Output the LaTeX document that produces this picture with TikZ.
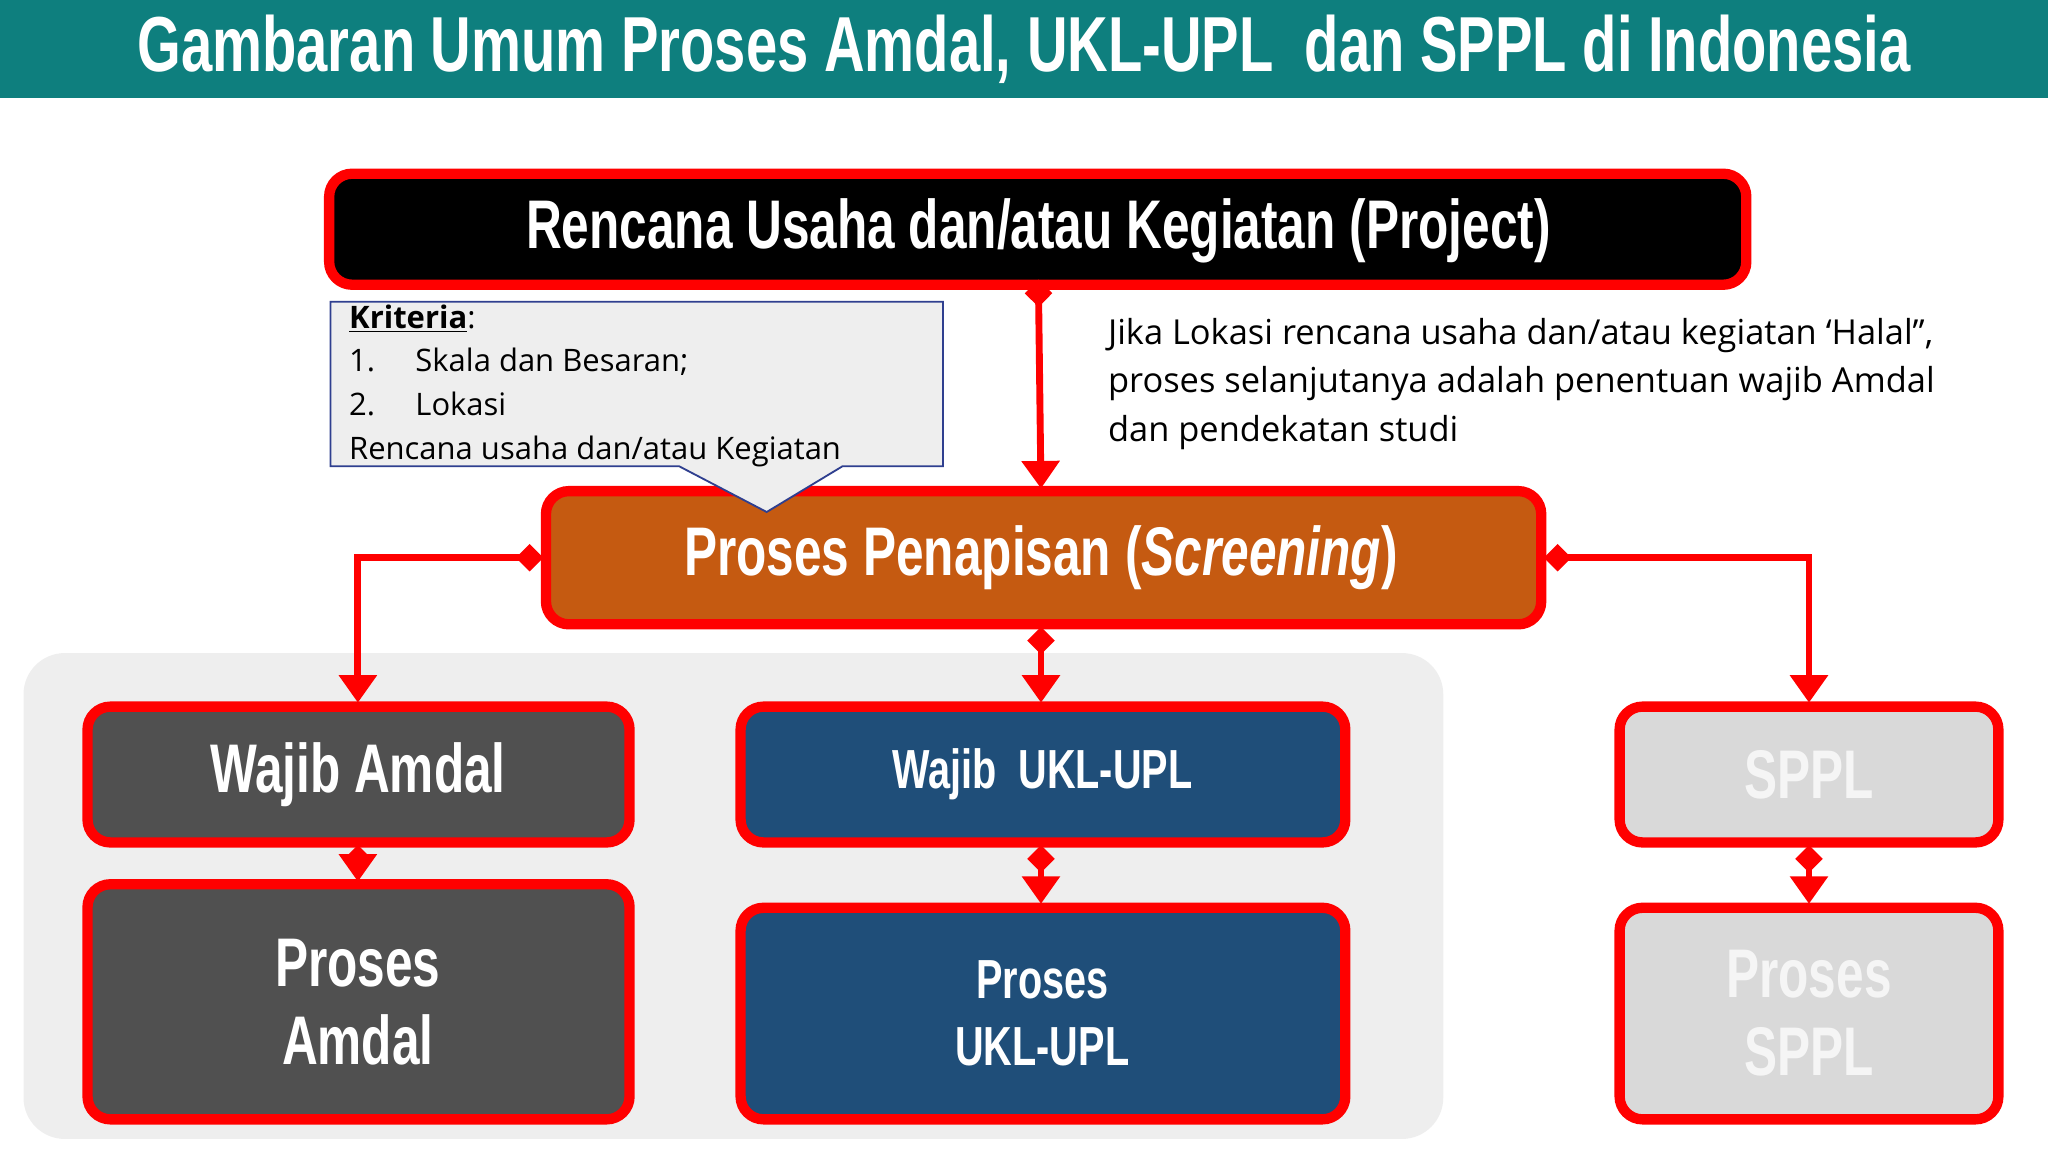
\documentclass[tikz,border=0pt]{standalone}
\usepackage{fontspec}
\setmainfont{Open Sans}
\newfontfamily\cond[FakeStretch=0.72]{Liberation Sans}
\usetikzlibrary{arrows.meta,shapes.callouts}
\definecolor{teal1}{HTML}{0E7F7E}
\definecolor{bgg}{HTML}{EEEEEE}
\definecolor{redb}{HTML}{FF0000}
\definecolor{orng}{HTML}{C55A11}
\definecolor{dgray}{HTML}{505050}
\definecolor{navy}{HTML}{1F4E79}
\definecolor{lgray}{HTML}{D9D9D9}
\definecolor{kbord}{HTML}{2F3F8F}
\tikzset{
 rbox/.style={draw=redb,line width=4.5pt,rounded corners=10pt},
 conn/.style={draw=redb,line width=3pt,{Diamond[length=12pt,width=12pt]}-{Triangle[length=12pt,width=16pt]}},
 connd/.style={draw=redb,line width=3pt,{Diamond[length=12pt,width=12pt]}-{Diamond[length=12pt,width=12pt]}},
 big/.style={text=white,font=\cond\bfseries\fontsize{30}{34}\selectfont},
}
\begin{document}
\begin{tikzpicture}[x=0.02cm,y=-0.02cm]
\useasboundingbox (0,0) rectangle (1568,882);
\fill[white] (0,0) rectangle (1568,882);
\fill[teal1] (0,0) rectangle (1568,75);
\node[text=white,font=\cond\bfseries\fontsize{34}{38}\selectfont] (title) at (784,38) {Gambaran Umum Proses Amdal, UKL-UPL\ \ dan SPPL di Indonesia};
\fill[bgg,rounded corners=18pt] (18,500) rectangle (1105,872);
% top
\draw[rbox,fill=black] (252,133) rectangle (1337,218);
\node[big] (top) at (795,177) {Rencana Usaha dan/atau Kegiatan (Project)};
\coordinate (topb) at (795,214);
% screening
\draw[rbox,fill=orng] (418,376) rectangle (1180,478);
\node[big] (scr) at (797,427) {Proses Penapisan (\textit{Screening})};
\coordinate (scrT) at (797,374); \coordinate (scrB) at (797,480);
\coordinate (scrL) at (416,427); \coordinate (scrR) at (1182,427);
% kriteria callout
\draw[kbord,fill=bgg,line width=0.8pt] (253,231) -- (722,231) -- (722,357) -- (645,357) -- (587,392) -- (520,357) -- (253,357) -- cycle;
\node[anchor=north west,align=left,font=\fontsize{13.5}{19}\selectfont,inner sep=0] (krit) at (267,233)
 {\underline{\textbf{Kriteria}}:\\1.\hspace{1.3em}Skala dan Besaran;\\2.\hspace{1.3em}Lokasi\\Rencana usaha dan/atau Kegiatan};
\node[anchor=north west,align=left,font=\fontsize{15}{21.2}\selectfont,inner sep=0] (halal) at (848,243)
 {Jika Lokasi rencana usaha dan/atau kegiatan ‘Halal”,\\proses selanjutanya adalah penentuan wajib Amdal\\dan pendekatan studi};
% lower boxes
\draw[rbox,fill=dgray] (67,541) rectangle (482,645);
\node[big] (wa) at (274,593) {Wajib Amdal};
\draw[rbox,fill=dgray] (67,677) rectangle (482,857);
\node[big,align=center] (pa) at (274,767) {Proses\\Amdal};
\draw[rbox,fill=navy] (567,541) rectangle (1030,645);
\node[big,font=\cond\bfseries\fontsize{24}{28}\selectfont] (wu) at (798,593) {Wajib\ \ UKL-UPL};
\draw[rbox,fill=navy] (567,695) rectangle (1030,857);
\node[big,align=center,font=\cond\bfseries\fontsize{24}{29}\selectfont] (pu) at (798,776) {Proses\\UKL-UPL};
\draw[rbox,fill=lgray] (1240,541) rectangle (1530,645);
\node[big,text=white!92!gray] (ws) at (1385,593) {SPPL};
\draw[rbox,fill=lgray] (1240,695) rectangle (1530,857);
\node[big,text=white!92!gray,align=center] (ps) at (1385,776) {Proses\\SPPL};
\coordinate (waT) at (274,538); \coordinate (wuT) at (797,538); \coordinate (wsT) at (1385,538);
\coordinate (waB) at (274,647); \coordinate (paT) at (274,675);
\coordinate (wuB) at (797,647); \coordinate (puT) at (797,692);
\coordinate (wsB) at (1385,647); \coordinate (psT) at (1385,692);
% connectors
\draw[conn] (topb) -- (scrT);
\draw[conn] (scrL) -| (waT);
\draw[conn] (scrR) -| (wsT);
\draw[conn] (scrB) -- (wuT);
\draw[conn] (waB) -- (paT);
\draw[conn] (wuB) -- (puT);
\draw[conn] (wsB) -- (psT);
\end{tikzpicture}
\end{document}
